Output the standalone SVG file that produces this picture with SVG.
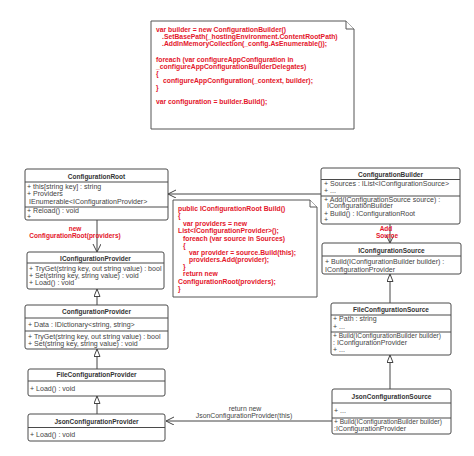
<svg xmlns="http://www.w3.org/2000/svg" width="474" height="456" viewBox="0 0 474 456">
<style>
.box{fill:#fff;stroke:#4a4a4a;stroke-width:1}
.div{stroke:#4a4a4a;stroke-width:1}
.note{fill:#fff;stroke:#555;stroke-width:1}
.t{font-family:"Liberation Sans",Arial,sans-serif;font-size:6.5px;font-weight:bold;fill:#333;text-anchor:middle}
.m{font-family:"Liberation Sans",Arial,sans-serif;font-size:7.05px;fill:#444}
.s{font-size:6.6px}
.r{font-family:"Liberation Sans",Arial,sans-serif;font-size:6.8px;font-weight:bold;fill:#e4162b}
.rl{font-family:"Liberation Sans",Arial,sans-serif;font-size:6.5px;font-weight:bold;fill:#e4162b;text-anchor:middle}
.g{font-family:"Liberation Sans",Arial,sans-serif;font-size:6.9px;fill:#444;text-anchor:middle}
.c{fill:none;stroke:#444;stroke-width:1}
</style>
<defs>
<marker id="open" markerUnits="userSpaceOnUse" markerWidth="10" markerHeight="10" refX="8" refY="4" orient="auto"><path d="M0,0 L8,4 L0,8" fill="none" stroke="#444" stroke-width="1"/></marker>
<marker id="tri" markerUnits="userSpaceOnUse" markerWidth="10" markerHeight="10" refX="8" refY="3.5" orient="auto"><path d="M0.5,0.5 L8,3.5 L0.5,6.5 Z" fill="#fff" stroke="#444" stroke-width="1"/></marker>
</defs>
<rect width="474" height="456" fill="#fff"/>

<g id="note-top">
<path class="note" d="M151,21 L346,21 L354,29 L354,129 L151,129 Z"/>
<path class="note" d="M346,21 L346,29 L354,29" fill="none"/>
<text class="r" x="156" y="31.6">var builder = new ConfigurationBuilder()</text>
<text class="r" x="162" y="39">.SetBasePath(_hostingEnvironment.ContentRootPath)</text>
<text class="r" x="162" y="46.3">.AddInMemoryCollection(_config.AsEnumerable());</text>
<text class="r" x="156" y="61.6">foreach (var configureAppConfiguration in</text>
<text class="r" x="156" y="69">_configureAppConfigurationBuilderDelegates)</text>
<text class="r" x="156" y="76.3">{</text>
<text class="r" x="163" y="83">configureAppConfiguration(_context, builder);</text>
<text class="r" x="156" y="90.3">}</text>
<text class="r" x="156" y="104.3">var configuration = builder.Build();</text>
</g>

<g id="connectors">
<path class="c" d="M321,194 L168,194" marker-end="url(#open)"/>
<path class="c" d="M97,220 L97,252" marker-end="url(#open)"/>
<path class="c" d="M97,305 L97,289" marker-end="url(#tri)"/>
<path class="c" d="M97,369 L97,349" marker-end="url(#tri)"/>
<path class="c" d="M97,414 L97,396" marker-end="url(#tri)"/>
<path class="c" d="M390,224 L390,243" marker-end="url(#open)"/>
<path class="c" d="M390,303 L390,274" marker-end="url(#tri)"/>
<path class="c" d="M390,389 L390,355" marker-end="url(#tri)"/>
<path class="c" d="M332,421 L166,421" marker-end="url(#open)"/>
<text class="rl" x="75" y="230.5">new</text>
<text class="rl" x="75" y="237.5">ConfigurationRoot(providers)</text>
<text class="rl" x="386" y="230.5">Add</text>
<text class="rl" x="387" y="237.5">Source</text>
<text class="g" x="245" y="410.5">return new</text>
<text class="g" x="244" y="417.5">JsonConfigurationProvider(this)</text>
</g>

<g id="ConfigurationRoot">
<rect class="box" x="25" y="169" width="143" height="51" rx="2"/>
<text class="t" x="96.5" y="179">ConfigurationRoot</text>
<line class="div" x1="25" y1="182" x2="168" y2="182"/>
<text class="m" x="27" y="189">+ this[string key] : string</text>
<text class="m" x="27" y="196">+ Providers</text>
<text class="m" x="29" y="204">IEnumerable&lt;IConfigurationProvider&gt;</text>
<line class="div" x1="25" y1="207" x2="168" y2="207"/>
<text class="m" x="27" y="212.5">+ Reload() : void</text>
<text class="m" x="27" y="219">+</text>
</g>

<g id="note-build">
<path class="note" d="M173,200 L310,200 L317,207 L317,297 L173,297 Z"/>
<path class="note" d="M310,200 L310,207 L317,207" fill="none"/>
<text class="r" x="178" y="210.5">public IConfigurationRoot Build()</text>
<text class="r" x="178" y="218">{</text>
<text class="r" x="183" y="225.5">var providers = new</text>
<text class="r" x="178" y="233">List&lt;IConfigurationProvider&gt;();</text>
<text class="r" x="183" y="240.5">foreach (var source in Sources)</text>
<text class="r" x="183" y="247.5">{</text>
<text class="r" x="189" y="254.5">var provider = source.Build(this);</text>
<text class="r" x="189" y="261.5">providers.Add(provider);</text>
<text class="r" x="183" y="269">}</text>
<text class="r" x="183" y="276">return new</text>
<text class="r" x="178" y="283.5">ConfigurationRoot(providers);</text>
<text class="r" x="178" y="290.5">}</text>
</g>

<g id="ConfigurationBuilder">
<rect class="box" x="321" y="168" width="139" height="56" rx="2"/>
<text class="t" x="390.5" y="176.5">ConfigurationBuilder</text>
<line class="div" x1="321" y1="179.5" x2="460" y2="179.5"/>
<text class="m" x="324" y="186">+ Sources : IList&lt;IConfigurationSource&gt;</text>
<text class="m" x="324" y="193">+ ...</text>
<line class="div" x1="321" y1="196" x2="460" y2="196"/>
<text class="m" x="324" y="201.5">+ Add(IConfigurationSource source) :</text>
<text class="m" x="327" y="208">IConfigurationBuilder</text>
<text class="m" x="324" y="215.5">+ Build() : IConfigurationRoot</text>
<text class="m" x="324" y="222">+</text>
</g>

<g id="IConfigurationSource">
<rect class="box" x="322" y="243" width="139" height="31" rx="2"/>
<text class="t" x="391.5" y="253">IConfigurationSource</text>
<line class="div" x1="322" y1="256" x2="461" y2="256"/>
<text class="m" x="325" y="264">+ Build(IConfigurationBuilder builder) :</text>
<text class="m" x="325" y="272">IConfigurationProvider</text>
</g>

<g id="IConfigurationProvider">
<rect class="box" x="27" y="252" width="137" height="37" rx="2"/>
<text class="t" x="95.5" y="260.5">IConfigurationProvider</text>
<line class="div" x1="27" y1="263" x2="164" y2="263"/>
<text class="m" x="29" y="270.5">+ TryGet(string key, out string value) : bool</text>
<text class="m" x="29" y="278">+ Set(string key, string value) : void</text>
<text class="m" x="29" y="285">+ Load() : void</text>
</g>

<g id="ConfigurationProvider">
<rect class="box" x="25" y="305" width="143" height="44" rx="2"/>
<text class="t" x="96.5" y="314">ConfigurationProvider</text>
<line class="div" x1="25" y1="318" x2="168" y2="318"/>
<text class="m" x="28" y="327">+ Data : IDictionary&lt;string, string&gt;</text>
<line class="div" x1="25" y1="331" x2="168" y2="331"/>
<text class="m" x="28" y="339">+ TryGet(string key, out string value) : bool</text>
<text class="m" x="28" y="346">+ Set(string key, string value) : void</text>
</g>

<g id="FileConfigurationSource">
<rect class="box" x="331" y="303" width="120" height="52" rx="2"/>
<text class="t" x="391" y="312">FileConfigurationSource</text>
<line class="div" x1="331" y1="315" x2="451" y2="315"/>
<text class="m" x="333" y="321">+ Path : string</text>
<text class="m" x="333" y="329">+ ...</text>
<line class="div" x1="331" y1="332" x2="451" y2="332"/>
<text class="m s" x="333" y="338">+ Build(IConfigurationBuilder builder)</text>
<text class="m" x="333" y="344.5">: IConfigurationProvider</text>
<text class="m" x="333" y="352">+ ...</text>
</g>

<g id="FileConfigurationProvider">
<rect class="box" x="28" y="369" width="137" height="27" rx="2"/>
<text class="t" x="96.5" y="377">FileConfigurationProvider</text>
<line class="div" x1="28" y1="381" x2="165" y2="381"/>
<text class="m" x="30" y="391">+ Load() : void</text>
</g>

<g id="JsonConfigurationProvider">
<rect class="box" x="28" y="414" width="137" height="27" rx="2"/>
<text class="t" x="96.5" y="424">JsonConfigurationProvider</text>
<line class="div" x1="28" y1="427.5" x2="165" y2="427.5"/>
<text class="m" x="30" y="437">+ Load() : void</text>
</g>

<g id="JsonConfigurationSource">
<rect class="box" x="332" y="389" width="119" height="45" rx="2"/>
<text class="t" x="391.5" y="399">JsonConfigurationSource</text>
<line class="div" x1="332" y1="403" x2="451" y2="403"/>
<text class="m" x="334" y="413">+ ...</text>
<line class="div" x1="332" y1="418" x2="451" y2="418"/>
<text class="m s" x="334" y="424">+ Build(IConfigurationBuilder builder)</text>
<text class="m" x="334" y="430.5">:IConfigurationProvider</text>
</g>
</svg>
